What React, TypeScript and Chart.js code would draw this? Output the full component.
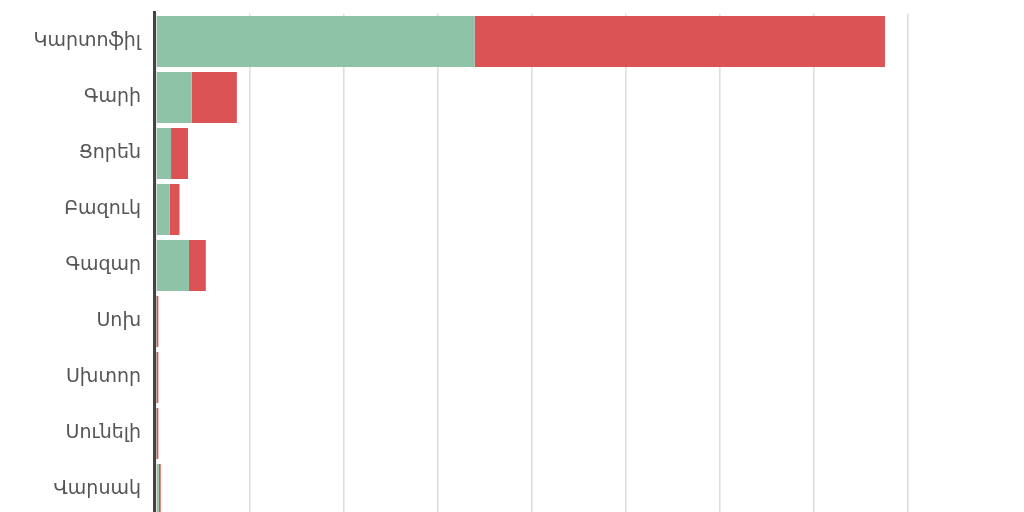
import React, { useEffect, useRef } from "react";
import { Chart, registerables } from "chart.js";

Chart.register(...registerables);

const categories = ["Կարտոֆիլ", "Գարի", "Ցորեն", "Բազուկ", "Գազար", "Սոխ", "Սխտոր", "Սունելի", "Վարսակ"];
const greenValues = [339, 38, 16, 14.5, 35, 0.5, 0.5, 0.5, 3];
const redValues = [436.5, 48, 18, 10.5, 18, 2, 2, 2, 2];
const xMax = 850;
const xStep = 100;

const axisLinePlugin = {
  id: "axisLine",
  afterDatasetsDraw(chart: any) {
    const { ctx, chartArea } = chart;
    ctx.save();
    ctx.strokeStyle = "#444";
    ctx.lineWidth = 3;
    ctx.beginPath();
    ctx.moveTo(chartArea.left - 1.5, chartArea.top - 2.5);
    ctx.lineTo(chartArea.left - 1.5, chartArea.bottom);
    ctx.stroke();
    ctx.restore();
  },
};

export default function App() {
  const ref = useRef<HTMLCanvasElement | null>(null);
  useEffect(() => {
    if (!ref.current) return;
    const chart = new Chart(ref.current, {
      type: "bar",
      data: {
        labels: categories,
        datasets: [
          {
            label: "green",
            data: greenValues,
            backgroundColor: "#8fc3a8",
            borderWidth: 0,
            categoryPercentage: 1,
            barPercentage: 0.91,
          },
          {
            label: "red",
            data: redValues,
            backgroundColor: "#dc5355",
            borderWidth: 0,
            categoryPercentage: 1,
            barPercentage: 0.91,
          },
        ],
      },
      plugins: [axisLinePlugin],
      options: {
        indexAxis: "y",
        animation: false,
        responsive: true,
        maintainAspectRatio: false,
        layout: { padding: { top: 13.5, right: 69, bottom: 12.5, left: 0 } },
        plugins: { legend: { display: false }, tooltip: { enabled: false } },
        scales: {
          x: {
            stacked: true,
            min: 0,
            max: xMax,
            ticks: { display: false, stepSize: xStep, includeBounds: false },
            grid: { color: "#dedede", lineWidth: 1.6, drawTicks: false },
            border: { display: false },
            afterFit: (scale: any) => {
              scale.height = 0;
              scale.paddingLeft = 0;
              scale.paddingRight = 0;
            },
          },
          y: {
            stacked: true,
            afterFit: (scale: any) => {
              scale.width = 156;
              scale.paddingTop = 0;
              scale.paddingBottom = 0;
            },
            ticks: {
              color: "#555",
              padding: 15,
              font: { family: "DejaVu Sans", size: 19, weight: "normal" },
            },
            grid: { display: false, drawTicks: false },
            border: { display: false },
          },
        },
      },
    });
    return () => chart.destroy();
  }, []);
  return (
    <div style={{ position: "absolute", left: 0, top: 0, width: 1024, height: 512, overflow: "hidden", background: "#fff" }}>
      <div style={{ position: "relative", width: 1024, height: 530 }}>
        <canvas ref={ref} />
      </div>
    </div>
  );
}
